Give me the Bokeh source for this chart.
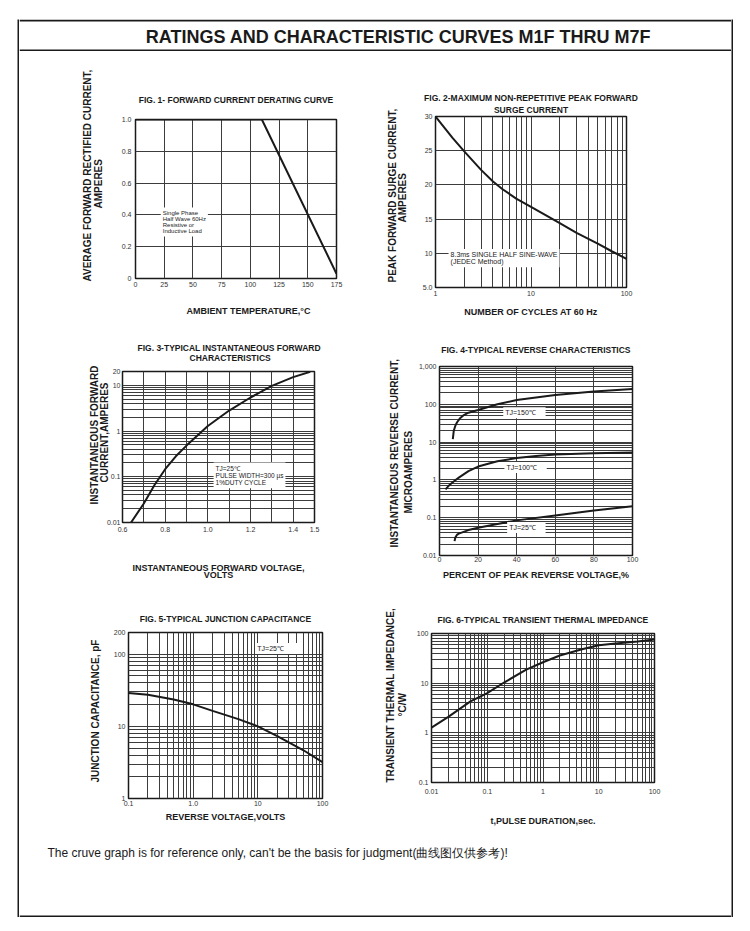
from bokeh.plotting import figure
from bokeh.layouts import column, row
from bokeh.models import Range1d, FixedTicker, Label, Span, Title
from bokeh.embed import file_html
from bokeh.resources import INLINE

FONT = "Liberation Sans"
INK = "#1a1a1a"
GRID = "#3c3c3c"

# ------------------------------------------------------------------ data
page_title = "RATINGS AND CHARACTERISTIC CURVES M1F THRU M7F"
footer_text = "The cruve graph is for reference only, can't be the basis for judgment(曲线图仅供参考)!"

# Fig 1 - forward current derating
fig1_temp_c = [0, 110, 175]
fig1_current_a = [1.0, 1.0, 0.03]
fig1_xticks = [0, 25, 50, 75, 100, 125, 150, 175]
fig1_xlabels = ["0", "25", "50", "75", "100", "125", "150", "175"]
fig1_yticks = [0, 0.2, 0.4, 0.6, 0.8, 1.0]
fig1_ylabels = ["0", "0.2", "0.4", "0.6", "0.8", "1.0"]

# Fig 2 - peak forward surge current
fig2_cycles = [1, 1.5, 2, 3, 4, 5, 7, 10, 15, 20, 30, 50, 70, 100]
fig2_amps = [30, 26.9, 24.9, 22.2, 20.5, 19.4, 18.0, 16.8, 15.4, 14.4, 13.0, 11.4, 10.3, 9.2]
fig2_xticks = [1, 10, 100]
fig2_xlabels = ["1", "10", "100"]
fig2_yticks = [5, 10, 15, 20, 25, 30]
fig2_ylabels = ["5.0", "10", "15", "20", "25", "30"]

# Fig 3 - forward characteristics
fig3_volts = [0.64, 0.7, 0.75, 0.8, 0.85, 0.9, 1.0, 1.1, 1.2, 1.3, 1.4, 1.48]
fig3_amps = [0.01, 0.026, 0.066, 0.146, 0.28, 0.48, 1.29, 2.8, 5.4, 9.7, 15.1, 19.7]
fig3_xticks = [0.6, 0.8, 1.0, 1.2, 1.4, 1.5]
fig3_xlabels = ["0.6", "0.8", "1.0", "1.2", "1.4", "1.5"]
fig3_yticks = [0.01, 0.1, 1, 10, 20]
fig3_ylabels = ["0.01", "0.1", "1", "10", "20"]

# Fig 4 - reverse characteristics
fig4_pct_150 = [6.9, 7.4, 8.3, 9.2, 10.5, 12.6, 15, 20, 30, 40, 60, 80, 100]
fig4_ua_150 = [12, 20, 28, 34, 42, 52, 60, 71, 100, 130, 175, 218, 255]
fig4_pct_100 = [3.1, 5, 7.5, 10, 15, 20, 30, 40, 50, 60, 80, 100]
fig4_ua_100 = [0.56, 0.72, 0.92, 1.15, 1.7, 2.25, 3.1, 3.8, 4.3, 4.7, 5.1, 5.3]
fig4_pct_25 = [7.8, 8.2, 9, 10, 15, 20, 30, 40, 60, 80, 100]
fig4_ua_25 = [0.024, 0.03, 0.035, 0.038, 0.047, 0.054, 0.068, 0.085, 0.115, 0.155, 0.2]
fig4_xticks = [0, 20, 40, 60, 80, 100]
fig4_xlabels = ["0", "20", "40", "60", "80", "100"]
fig4_yticks = [0.01, 0.1, 1, 10, 100, 1000]
fig4_ylabels = ["0.01", "0.1", "1", "10", "100", "1,000"]

# Fig 5 - junction capacitance
fig5_volts = [0.1, 0.2, 0.5, 1, 2, 5, 10, 20, 50, 100]
fig5_pf = [29, 27.5, 23.5, 20.2, 16.4, 12.6, 10.0, 7.3, 4.7, 3.2]
fig5_xticks = [0.1, 1, 10, 100]
fig5_xlabels = ["0.1", "1.0", "10", "100"]
fig5_yticks = [1, 10, 100, 200]
fig5_ylabels = ["1", "10", "100", "200"]

# Fig 6 - transient thermal impedance
fig6_sec = [0.01, 0.02, 0.05, 0.1, 0.2, 0.5, 1, 2, 5, 10, 20, 50, 100]
fig6_cw = [1.27, 2.1, 4.3, 6.3, 10.3, 18.7, 26.4, 36, 48, 58, 63, 69, 76]
fig6_xticks = [0.01, 0.1, 1, 10, 100]
fig6_xlabels = ["0.01", "0.1", "1", "10", "100"]
fig6_yticks = [0.1, 1, 10, 100]
fig6_ylabels = ["0.1", "1", "10", "100"]


# ------------------------------------------------------------------ helpers
def log_lines(lo, hi):
    out = []
    e = -4
    while 10 ** e < hi * 10:
        for m in range(1, 10):
            v = round(m * 10 ** e, 6)
            if lo < v < hi:
                out.append(v)
        e += 1
    return out


def panel(w, h, borders, xr, yr, xtype="linear", ytype="linear"):
    l, r, t, b = borders
    p = figure(width=w, height=h, x_range=Range1d(*xr), y_range=Range1d(*yr),
               x_axis_type=xtype, y_axis_type=ytype,
               min_border_left=l, min_border_right=r,
               min_border_top=t, min_border_bottom=b,
               toolbar_location=None, output_backend="svg")
    p.background_fill_color = "white"
    p.border_fill_color = "white"
    p.outline_line_color = INK
    p.outline_line_width = 1.5
    for ax in (p.xaxis[0], p.yaxis[0]):
        ax.axis_line_color = None
        ax.major_tick_line_color = None
        ax.minor_tick_line_color = None
        ax.major_tick_in = 0
        ax.major_tick_out = 0
        ax.minor_tick_in = 0
        ax.minor_tick_out = 0
        ax.major_label_text_font = FONT
        ax.major_label_text_font_size = "7px"
        ax.major_label_text_color = "#333333"
        ax.axis_label_text_font = FONT
        ax.axis_label_text_font_style = "bold"
        ax.axis_label_text_color = INK
    p.xaxis.axis_label_text_font_size = "9px"
    p.xaxis.axis_label_text_line_height = 0.75
    p.xgrid.grid_line_color = GRID
    p.ygrid.grid_line_color = GRID
    p.xgrid.grid_line_width = 1
    p.ygrid.grid_line_width = 1
    return p


def titles(p, lines, standoffs, align="center", offsets=None, side="above", size="8.5px"):
    # lines listed from outermost to innermost; innermost is added first
    offs = offsets or [0] * len(lines)
    for text, so, off in reversed(list(zip(lines, standoffs, offs))):
        p.add_layout(Title(text=text, align=align, offset=off, standoff=so,
                           text_font=FONT, text_font_size=size, text_font_style="bold",
                           text_color=INK), side)


def ylabel(p, lines, standoffs, offsets):
    titles(p, lines, standoffs, align="left", offsets=offsets, side="left", size="10px")


def setup(p, xlabel, x_ls, x_stand, y_ls, xticks, xlabels, yticks, ylabels, xgrid, ygrid):
    if xlabel:
        p.xaxis.axis_label = xlabel
    p.xaxis.major_label_standoff = x_ls
    p.yaxis.major_label_standoff = y_ls
    p.xaxis.axis_label_standoff = x_stand
    p.xaxis.ticker = FixedTicker(ticks=xticks)
    p.yaxis.ticker = FixedTicker(ticks=yticks)
    p.xaxis.major_label_overrides = dict(zip(xticks, xlabels))
    p.yaxis.major_label_overrides = dict(zip(yticks, ylabels))
    p.xgrid.ticker = FixedTicker(ticks=xgrid)
    p.ygrid.ticker = FixedTicker(ticks=ygrid)


def note(p, x, y, text, size="7px", align="left"):
    p.add_layout(Label(x=x, y=y, text=text, text_font=FONT, text_font_size=size,
                       text_color=INK, text_align=align, text_baseline="middle",
                       text_line_height=1.05, background_fill_color="white", padding=2))


def bar(w, h):
    f = figure(width=w, height=h, min_border=0, x_axis_location=None, y_axis_location=None,
               toolbar_location=None, output_backend="svg",
               background_fill_color=INK, border_fill_color=INK)
    f.outline_line_color = None
    f.grid.visible = False
    return f


# ------------------------------------------------------------------ Fig 1
p1 = panel(356, 279, (116, 39, 68, 50), (0, 175), (0, 1.0))
setup(p1, None, 3, 14, 4,
      fig1_xticks, fig1_xlabels, fig1_yticks, fig1_ylabels,
      [25, 50, 75, 100, 125, 150], [0.2, 0.4, 0.6, 0.8])
titles(p1, ["FIG. 1- FORWARD CURRENT DERATING CURVE"], [30])
titles(p1, ["AMBIENT TEMPERATURE,°C"], [29], align="left", offsets=[51], side="below", size="9px")
ylabel(p1, ["AVERAGE FORWARD RECTIFIED CURRENT,", "AMPERES"], [-33, 29], [-3, 70])
p1.line(fig1_temp_c, fig1_current_a, line_color=INK, line_width=2)
note(p1, 22, 0.355, "Single Phase\nHalf Wave 60Hz\nResistive or\nInductive Load", size="6px")

# ------------------------------------------------------------------ Fig 2
p2 = panel(356, 279, (60, 105, 65, 43), (1, 100), (5, 30), xtype="log")
setup(p2, "NUMBER OF CYCLES AT 60 Hz", 3, 8, 3,
      fig2_xticks, fig2_xlabels, fig2_yticks, fig2_ylabels,
      log_lines(1, 100), [10, 15, 20, 25])
titles(p2, ["FIG. 2-MAXIMUM NON-REPETITIVE PEAK FORWARD", "SURGE CURRENT"], [-4, 4])
ylabel(p2, ["PEAK  FORWARD SURGE CURRENT,", "AMPERES"], [-29, 23], [5, 65])
p2.line(fig2_cycles, fig2_amps, line_color=INK, line_width=2)
note(p2, 1.37, 9.3, "8.3ms SINGLE HALF SINE-WAVE\n(JEDEC Method)")

# ------------------------------------------------------------------ Fig 3
p3 = panel(356, 258, (103, 61, 41, 66), (0.6, 1.5), (0.01, 20), ytype="log")
setup(p3, "INSTANTANEOUS FORWARD VOLTAGE,\nVOLTS", 4, 28, 2,
      fig3_xticks, fig3_xlabels, fig3_yticks, fig3_ylabels,
      [0.7, 0.8, 0.9, 1.0, 1.1, 1.2, 1.3, 1.4], log_lines(0.01, 20))
titles(p3, ["FIG. 3-TYPICAL INSTANTANEOUS FORWARD", "CHARACTERISTICS"], [-22, 18],
       align="left", offsets=[15, 67])
ylabel(p3, ["INSTANTANEOUS FORWARD", "CURRENT,AMPERES"], [8, -13], [18, 40])
p3.line(fig3_volts, fig3_amps, line_color=INK, line_width=2)
note(p3, 1.027, 0.107, "TJ=25℃\nPULSE WIDTH=300 µs\n1%DUTY CYCLE", size="6.5px")

# ------------------------------------------------------------------ Fig 4
p4 = panel(356, 258, (64, 99, 36, 33), (0, 100), (0.01, 1000), ytype="log")
setup(p4, "PERCENT OF PEAK REVERSE VOLTAGE,%", 1, 5, 3,
      fig4_xticks, fig4_xlabels, fig4_yticks, fig4_ylabels,
      [20, 40, 60, 80], log_lines(0.01, 1000))
titles(p4, ["FIG. 4-TYPICAL REVERSE CHARACTERISTICS"], [24])
ylabel(p4, ["INSTANTANEOUS REVERSE CURRENT,", "MICROAMPERES"], [-2, 4], [8, 42])
p4.line(fig4_pct_150, fig4_ua_150, line_color=INK, line_width=2)
p4.line(fig4_pct_100, fig4_ua_100, line_color=INK, line_width=2)
p4.line(fig4_pct_25, fig4_ua_25, line_color=INK, line_width=2)
note(p4, 44, 60, "  TJ=150℃  ", align="center")
note(p4, 44.6, 2.13, "  TJ=100℃  ", align="center")
note(p4, 45, 0.055, "  TJ=25℃  ", align="center")

# ------------------------------------------------------------------ Fig 5
p5 = panel(356, 244, (109, 53, 44, 34), (0.1, 100), (1, 200), xtype="log", ytype="log")
setup(p5, "REVERSE VOLTAGE,VOLTS", 2, 3, 3,
      fig5_xticks, fig5_xlabels, fig5_yticks, fig5_ylabels,
      log_lines(0.1, 100), log_lines(1, 200))
titles(p5, ["FIG. 5-TYPICAL JUNCTION CAPACITANCE"], [18])
ylabel(p5, ["JUNCTION CAPACITANCE, pF"], [20], [16])
p5.line(fig5_volts, fig5_pf, line_color=INK, line_width=2)
note(p5, 19.4, 120, "   TJ=25℃   ", align="center")

# ------------------------------------------------------------------ Fig 6
p6 = panel(356, 244, (56, 77, 45, 50), (0.01, 100), (0.1, 100), xtype="log", ytype="log")
setup(p6, "t,PULSE DURATION,sec.", 6, 19, 3,
      fig6_xticks, fig6_xlabels, fig6_yticks, fig6_ylabels,
      log_lines(0.01, 100), log_lines(0.1, 100))
titles(p6, ["FIG. 6-TYPICAL TRANSIENT THERMAL IMPEDANCE"], [18])
ylabel(p6, ["TRANSIENT THERMAL IMPEDANCE,", "°C/W"], [-14, 12], [0, 66])
p6.line(fig6_sec, fig6_cw, line_color=INK, line_width=2)

# ------------------------------------------------------------------ header / footer
hdr = figure(width=712, height=32, x_range=Range1d(0, 712), y_range=Range1d(0, 32),
             min_border=0, x_axis_location=None, y_axis_location=None,
             toolbar_location=None, output_backend="svg")
hdr.outline_line_color = None
hdr.grid.visible = False
hdr.add_layout(Span(location=31, dimension="width", line_color=INK, line_width=2))
hdr.add_layout(Span(location=1, dimension="width", line_color=INK, line_width=2))
hdr.add_layout(Label(x=379, y=15, text=page_title, text_font=FONT, text_font_size="18px",
                     text_font_style="bold", text_color=INK, text_align="center",
                     text_baseline="middle"))

ftr = figure(width=712, height=85, x_range=Range1d(0, 712), y_range=Range1d(0, 85),
             min_border=0, x_axis_location=None, y_axis_location=None,
             toolbar_location=None, output_backend="svg")
ftr.outline_line_color = None
ftr.grid.visible = False
ftr.add_layout(Span(location=1, dimension="width", line_color=INK, line_width=2))
ftr.add_layout(Label(x=28, y=65, text=footer_text, text_font=FONT, text_font_size="12px",
                     text_color=INK, text_align="left", text_baseline="middle"))

inner = column(hdr,
               row(column(p1), column(p2)),
               row(column(p3), column(p4)),
               row(column(p5), column(p6)),
               ftr)
root = row(bar(2, 898), inner, bar(2, 898), margin=(19, 0, 0, 17))

open("out.html", "w").write(file_html(root, INLINE))
